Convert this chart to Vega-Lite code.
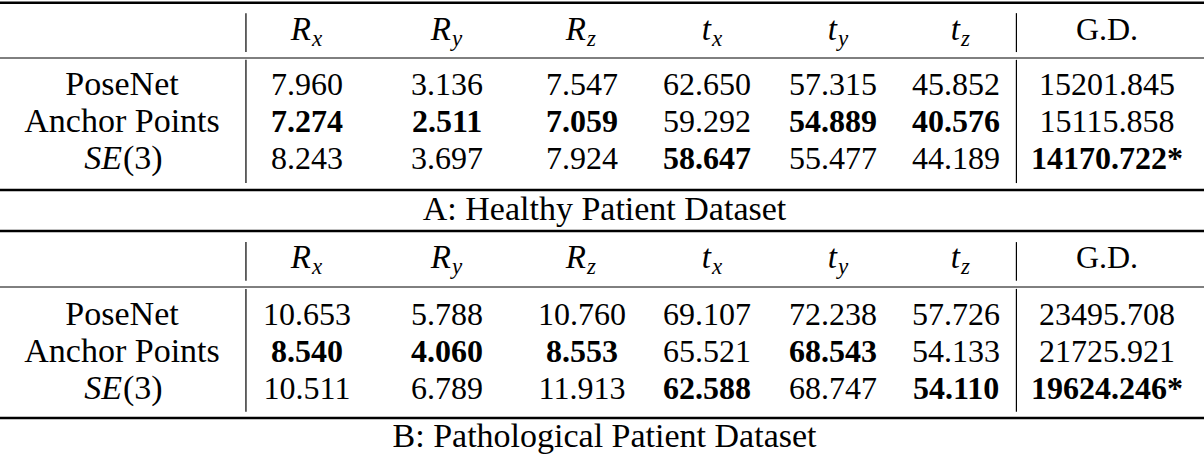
{
  "$schema": "https://vega.github.io/schema/vega-lite/v6.json",
  "width": 1204,
  "height": 454,
  "padding": 0,
  "autosize": "none",
  "background": "white",
  "config": {
    "view": {"stroke": null}
  },
  "datasets": {
    "hrules": [
      {"slot": 0, "kind": "thick"},
      {"slot": 2, "kind": "thin"},
      {"slot": 6, "kind": "thick"},
      {"slot": 8, "kind": "thick"},
      {"slot": 10, "kind": "thin"},
      {"slot": 14, "kind": "thick"}
    ],
    "vbars": [
      {"c": 0.67, "top": 0.28, "bottom": 1.67},
      {"c": 0.67, "top": 2.05, "bottom": 5.67},
      {"c": 6.4, "top": 0.28, "bottom": 1.67},
      {"c": 6.4, "top": 2.05, "bottom": 5.67},
      {"c": 0.67, "top": 8.3, "bottom": 9.67},
      {"c": 0.67, "top": 10.05, "bottom": 13.67},
      {"c": 6.4, "top": 8.3, "bottom": 9.67},
      {"c": 6.4, "top": 10.05, "bottom": 13.67}
    ],
    "heads": [
      {"slot": 1, "c": 1, "sym": "R", "sub": "x"},
      {"slot": 1, "c": 2, "sym": "R", "sub": "y"},
      {"slot": 1, "c": 3, "sym": "R", "sub": "z"},
      {"slot": 1, "c": 4, "sym": "t", "sub": "x"},
      {"slot": 1, "c": 5, "sym": "t", "sub": "y"},
      {"slot": 1, "c": 6, "sym": "t", "sub": "z"},
      {"slot": 9, "c": 1, "sym": "R", "sub": "x"},
      {"slot": 9, "c": 2, "sym": "R", "sub": "y"},
      {"slot": 9, "c": 3, "sym": "R", "sub": "z"},
      {"slot": 9, "c": 4, "sym": "t", "sub": "x"},
      {"slot": 9, "c": 5, "sym": "t", "sub": "y"},
      {"slot": 9, "c": 6, "sym": "t", "sub": "z"}
    ],
    "gd": [
      {"slot": 1, "c": 7, "text": "G.D."},
      {"slot": 9, "c": 7, "text": "G.D."}
    ],
    "plain": [
      {"slot": 3, "c": 0, "text": "PoseNet"},
      {"slot": 4, "c": 0, "text": "Anchor Points"},
      {"slot": 11, "c": 0, "text": "PoseNet"},
      {"slot": 12, "c": 0, "text": "Anchor Points"},
      {"slot": 7, "c": 3.18, "text": "A: Healthy Patient Dataset"},
      {"slot": 15, "c": 3.18, "text": "B: Pathological Patient Dataset"}
    ],
    "se": [
      {"slot": 5, "c": 0},
      {"slot": 13, "c": 0}
    ],
    "cells": [
      {"slot": 3, "c": 1, "text": "7.960", "best": false},
      {"slot": 3, "c": 2, "text": "3.136", "best": false},
      {"slot": 3, "c": 3, "text": "7.547", "best": false},
      {"slot": 3, "c": 4, "text": "62.650", "best": false},
      {"slot": 3, "c": 5, "text": "57.315", "best": false},
      {"slot": 3, "c": 6, "text": "45.852", "best": false},
      {"slot": 3, "c": 7, "text": "15201.845", "best": false},
      {"slot": 4, "c": 1, "text": "7.274", "best": true},
      {"slot": 4, "c": 2, "text": "2.511", "best": true},
      {"slot": 4, "c": 3, "text": "7.059", "best": true},
      {"slot": 4, "c": 4, "text": "59.292", "best": false},
      {"slot": 4, "c": 5, "text": "54.889", "best": true},
      {"slot": 4, "c": 6, "text": "40.576", "best": true},
      {"slot": 4, "c": 7, "text": "15115.858", "best": false},
      {"slot": 5, "c": 1, "text": "8.243", "best": false},
      {"slot": 5, "c": 2, "text": "3.697", "best": false},
      {"slot": 5, "c": 3, "text": "7.924", "best": false},
      {"slot": 5, "c": 4, "text": "58.647", "best": true},
      {"slot": 5, "c": 5, "text": "55.477", "best": false},
      {"slot": 5, "c": 6, "text": "44.189", "best": false},
      {"slot": 5, "c": 7, "text": "14170.722*", "best": true},
      {"slot": 11, "c": 1, "text": "10.653", "best": false},
      {"slot": 11, "c": 2, "text": "5.788", "best": false},
      {"slot": 11, "c": 3, "text": "10.760", "best": false},
      {"slot": 11, "c": 4, "text": "69.107", "best": false},
      {"slot": 11, "c": 5, "text": "72.238", "best": false},
      {"slot": 11, "c": 6, "text": "57.726", "best": false},
      {"slot": 11, "c": 7, "text": "23495.708", "best": false},
      {"slot": 12, "c": 1, "text": "8.540", "best": true},
      {"slot": 12, "c": 2, "text": "4.060", "best": true},
      {"slot": 12, "c": 3, "text": "8.553", "best": true},
      {"slot": 12, "c": 4, "text": "65.521", "best": false},
      {"slot": 12, "c": 5, "text": "68.543", "best": true},
      {"slot": 12, "c": 6, "text": "54.133", "best": false},
      {"slot": 12, "c": 7, "text": "21725.921", "best": false},
      {"slot": 13, "c": 1, "text": "10.511", "best": false},
      {"slot": 13, "c": 2, "text": "6.789", "best": false},
      {"slot": 13, "c": 3, "text": "11.913", "best": false},
      {"slot": 13, "c": 4, "text": "62.588", "best": true},
      {"slot": 13, "c": 5, "text": "68.747", "best": false},
      {"slot": 13, "c": 6, "text": "54.110", "best": true},
      {"slot": 13, "c": 7, "text": "19624.246*", "best": true}
    ]
  },
  "layer": [
    {
      "data": {"name": "hrules"},
      "mark": {"type": "rule", "color": "black"},
      "encoding": {
        "y": {"field": "slot", "type": "quantitative", "axis": null,
              "scale": {"domain": [0,1,2,3,4,5,6,7,8,9,10,11,12,13,14,15], "range": [2.7,40,58,95,132,169,190,220,231,268,287,325,362,399,418,447]}},
        "strokeWidth": {"condition": {"test": "datum.kind == 'thick'", "value": 2.6}, "value": 1}
      }
    },
    {
      "data": {"name": "vbars"},
      "mark": {"type": "rule", "color": "black", "strokeWidth": 1.2},
      "encoding": {
        "x": {"field": "c", "type": "quantitative", "axis": null,
              "scale": {"domain": [0,1,2,3,4,5,6,7], "range": [122,307,447,582,707,833,956,1107]}},
        "y": {"field": "top", "type": "quantitative", "axis": null,
              "scale": {"domain": [0,1,2,3,4,5,6,7,8,9,10,11,12,13,14,15], "range": [2.7,40,58,95,132,169,190,220,231,268,287,325,362,399,418,447]}},
        "y2": {"field": "bottom"}
      }
    },
    {
      "data": {"name": "cells"},
      "transform": [{"filter": "!datum.best"}],
      "mark": {"type": "text", "align": "center", "baseline": "alphabetic", "font": "Liberation Serif", "fontSize": 32, "fontWeight": "normal", "color": "black"},
      "encoding": {
        "x": {"field": "c", "type": "quantitative", "axis": null,
              "scale": {"domain": [0,1,2,3,4,5,6,7], "range": [122,307,447,582,707,833,956,1107]}},
        "y": {"field": "slot", "type": "quantitative", "axis": null,
              "scale": {"domain": [0,1,2,3,4,5,6,7,8,9,10,11,12,13,14,15], "range": [2.7,40,58,95,132,169,190,220,231,268,287,325,362,399,418,447]}},
        "text": {"field": "text"}
      }
    },
    {
      "data": {"name": "cells"},
      "transform": [{"filter": "datum.best"}],
      "mark": {"type": "text", "align": "center", "baseline": "alphabetic", "font": "Liberation Serif", "fontSize": 32, "fontWeight": "bold", "color": "black"},
      "encoding": {
        "x": {"field": "c", "type": "quantitative", "axis": null,
              "scale": {"domain": [0,1,2,3,4,5,6,7], "range": [122,307,447,582,707,833,956,1107]}},
        "y": {"field": "slot", "type": "quantitative", "axis": null,
              "scale": {"domain": [0,1,2,3,4,5,6,7,8,9,10,11,12,13,14,15], "range": [2.7,40,58,95,132,169,190,220,231,268,287,325,362,399,418,447]}},
        "text": {"field": "text"}
      }
    },
    {
      "data": {"name": "plain"},
      "mark": {"type": "text", "align": "center", "baseline": "alphabetic", "font": "Liberation Serif", "fontSize": 34, "color": "black"},
      "encoding": {
        "x": {"field": "c", "type": "quantitative", "axis": null,
              "scale": {"domain": [0,1,2,3,4,5,6,7], "range": [122,307,447,582,707,833,956,1107]}},
        "y": {"field": "slot", "type": "quantitative", "axis": null,
              "scale": {"domain": [0,1,2,3,4,5,6,7,8,9,10,11,12,13,14,15], "range": [2.7,40,58,95,132,169,190,220,231,268,287,325,362,399,418,447]}},
        "text": {"field": "text"}
      }
    },
    {
      "data": {"name": "gd"},
      "mark": {"type": "text", "align": "center", "baseline": "alphabetic", "font": "Liberation Serif", "fontSize": 32, "color": "black"},
      "encoding": {
        "x": {"field": "c", "type": "quantitative", "axis": null,
              "scale": {"domain": [0,1,2,3,4,5,6,7], "range": [122,307,447,582,707,833,956,1107]}},
        "y": {"field": "slot", "type": "quantitative", "axis": null,
              "scale": {"domain": [0,1,2,3,4,5,6,7,8,9,10,11,12,13,14,15], "range": [2.7,40,58,95,132,169,190,220,231,268,287,325,362,399,418,447]}},
        "text": {"field": "text"}
      }
    },
    {
      "data": {"name": "heads"},
      "mark": {"type": "text", "align": "right", "baseline": "alphabetic", "font": "Liberation Serif", "fontSize": 33, "fontStyle": "italic", "color": "black", "dx": 4},
      "encoding": {
        "x": {"field": "c", "type": "quantitative", "axis": null,
              "scale": {"domain": [0,1,2,3,4,5,6,7], "range": [122,307,447,582,707,833,956,1107]}},
        "y": {"field": "slot", "type": "quantitative", "axis": null,
              "scale": {"domain": [0,1,2,3,4,5,6,7,8,9,10,11,12,13,14,15], "range": [2.7,40,58,95,132,169,190,220,231,268,287,325,362,399,418,447]}},
        "text": {"field": "sym"}
      }
    },
    {
      "data": {"name": "heads"},
      "mark": {"type": "text", "align": "left", "baseline": "alphabetic", "font": "Liberation Serif", "fontSize": 23, "fontStyle": "italic", "color": "black", "dx": 5, "dy": 6},
      "encoding": {
        "x": {"field": "c", "type": "quantitative", "axis": null,
              "scale": {"domain": [0,1,2,3,4,5,6,7], "range": [122,307,447,582,707,833,956,1107]}},
        "y": {"field": "slot", "type": "quantitative", "axis": null,
              "scale": {"domain": [0,1,2,3,4,5,6,7,8,9,10,11,12,13,14,15], "range": [2.7,40,58,95,132,169,190,220,231,268,287,325,362,399,418,447]}},
        "text": {"field": "sub"}
      }
    },
    {
      "data": {"name": "se"},
      "mark": {"type": "text", "align": "right", "baseline": "alphabetic", "font": "Liberation Serif", "fontSize": 34, "fontStyle": "italic", "color": "black"},
      "encoding": {
        "x": {"field": "c", "type": "quantitative", "axis": null,
              "scale": {"domain": [0,1,2,3,4,5,6,7], "range": [122,307,447,582,707,833,956,1107]}},
        "y": {"field": "slot", "type": "quantitative", "axis": null,
              "scale": {"domain": [0,1,2,3,4,5,6,7,8,9,10,11,12,13,14,15], "range": [2.7,40,58,95,132,169,190,220,231,268,287,325,362,399,418,447]}},
        "text": {"value": "SE"}
      }
    },
    {
      "data": {"name": "se"},
      "mark": {"type": "text", "align": "left", "baseline": "alphabetic", "font": "Liberation Serif", "fontSize": 34, "color": "black", "dx": 1},
      "encoding": {
        "x": {"field": "c", "type": "quantitative", "axis": null,
              "scale": {"domain": [0,1,2,3,4,5,6,7], "range": [122,307,447,582,707,833,956,1107]}},
        "y": {"field": "slot", "type": "quantitative", "axis": null,
              "scale": {"domain": [0,1,2,3,4,5,6,7,8,9,10,11,12,13,14,15], "range": [2.7,40,58,95,132,169,190,220,231,268,287,325,362,399,418,447]}},
        "text": {"value": "(3)"}
      }
    }
  ]
}
